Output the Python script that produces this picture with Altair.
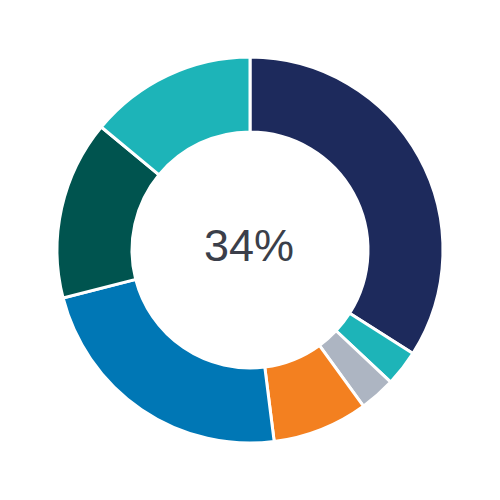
import altair as alt
import pandas as pd

categories = ["A", "B", "C", "D", "E", "F", "G"]
values = [34, 3, 3, 8, 23, 15, 14]
colors = ["#1d2a5c", "#1db4b8", "#adb5c2", "#f38020", "#0077b5", "#00544f", "#1db4b8"]
center_label = "34%"

df = pd.DataFrame({"cat": categories, "value": values, "ord": list(range(len(categories)))})

arcs = alt.Chart(df).mark_arc(innerRadius=118, outerRadius=193, stroke="white", strokeWidth=3).encode(
    theta=alt.Theta("value:Q", stack=True),
    order=alt.Order("ord:Q"),
    color=alt.Color("cat:N", scale=alt.Scale(domain=categories, range=colors), legend=None),
)

text = alt.Chart(pd.DataFrame({"t": [center_label]})).mark_text(
    font="Liberation Sans", fontSize=45, color="#3b3f4a", baseline="middle", align="center"
).encode(text="t:N", x=alt.value(241), y=alt.value(239))

chart = alt.layer(arcs, text).properties(
    width=484, height=484, padding=0,
    autosize=alt.AutoSizeParams(type="fit", contains="padding"),
).configure_view(stroke=None)

chart.save("out.html", embed_options={"renderer": "svg", "actions": False})
